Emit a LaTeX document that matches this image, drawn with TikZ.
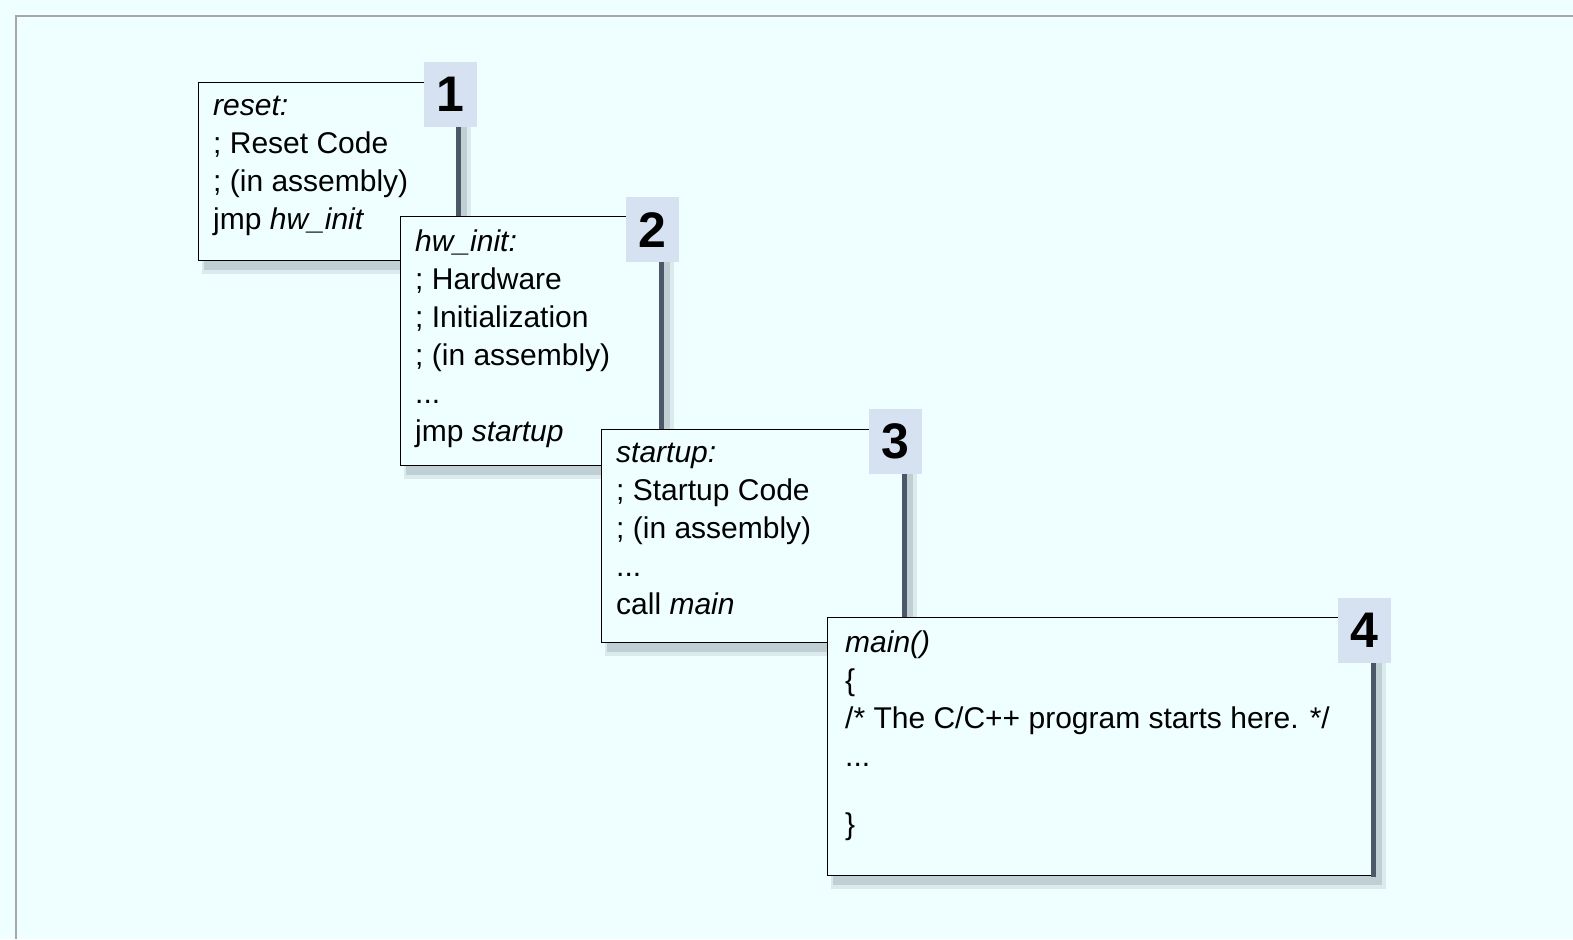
\documentclass[tikz,border=0pt]{standalone}
\usepackage{fontspec}
\setmainfont{Liberation Sans}
\begin{document}
\begin{tikzpicture}[x=1pt,y=-1pt,
  txt/.style={anchor=north west,inner sep=0,align=left,font=\fontsize{30}{38}\selectfont},
  badge/.style={fill=badgec,draw=none,inner sep=0},
  num/.style={font=\bfseries\fontsize{50}{50}\selectfont},
]
\definecolor{bgc}{HTML}{EFFFFF}
\definecolor{badgec}{HTML}{D6E2F2}
\definecolor{edgec}{HTML}{4C5868}
\useasboundingbox (0,0) rectangle (1573,939);
\fill[bgc] (0,0) rectangle (1573,939);
\draw[gray!70,line width=2] (16,939) -- (16,16) -- (1573,16);
\newcommand\mybox[5]{% name, l,t,r,b
  \fill[edgec,opacity=.18] (#2+6,#3+8) rectangle (#4+10,#5+10);
  \fill[edgec,opacity=.12] (#2+4,#3+6) rectangle (#4+14,#5+14);
  \node[draw=black,fill=bgc,line width=1.2,inner sep=0,minimum width=#4-#2,minimum height=#5-#3,anchor=north west] (#1) at (#2,#3) {};
  \draw[edgec,line width=5] (#4+1.5,#3+2) -- (#4+1.5,#5+2);
}
\mybox{b1}{198}{82}{457}{260}
\node[txt] (t1) at (213,96) {\textit{reset:}\\; Reset Code\\; (in assembly)\\jmp \textit{hw\_init}};
\node[badge,minimum width=53,minimum height=65,anchor=north west] (g1) at (424,62) {};
\node[num] at (g1.center) {1};
\mybox{b2}{400}{216}{660}{465}
\node[txt] (t2) at (415,230) {\textit{hw\_init:}\\; Hardware\\; Initialization\\; (in assembly)\\...\\jmp \textit{startup}};
\node[badge,minimum width=53,minimum height=65,anchor=north west] (g2) at (626,197) {};
\node[num] at (g2.center) {2};
\mybox{b3}{601}{429}{903}{642}
\node[txt] (t3) at (616,443) {\textit{startup:}\\; Startup Code\\; (in assembly)\\...\\call \textit{main}};
\node[badge,minimum width=53,minimum height=65,anchor=north west] (g3) at (869,409) {};
\node[num] at (g3.center) {3};
\mybox{b4}{827}{617}{1372}{875}
\node[txt] (t4) at (845,631) {\textit{main()}\\\{\\ /* The C/C++ program starts here. */\\...\\[30pt]\}};
\node[badge,minimum width=53,minimum height=65,anchor=north west] (g4) at (1338,598) {};
\node[num] at (g4.center) {4};
\end{tikzpicture}
\end{document}
